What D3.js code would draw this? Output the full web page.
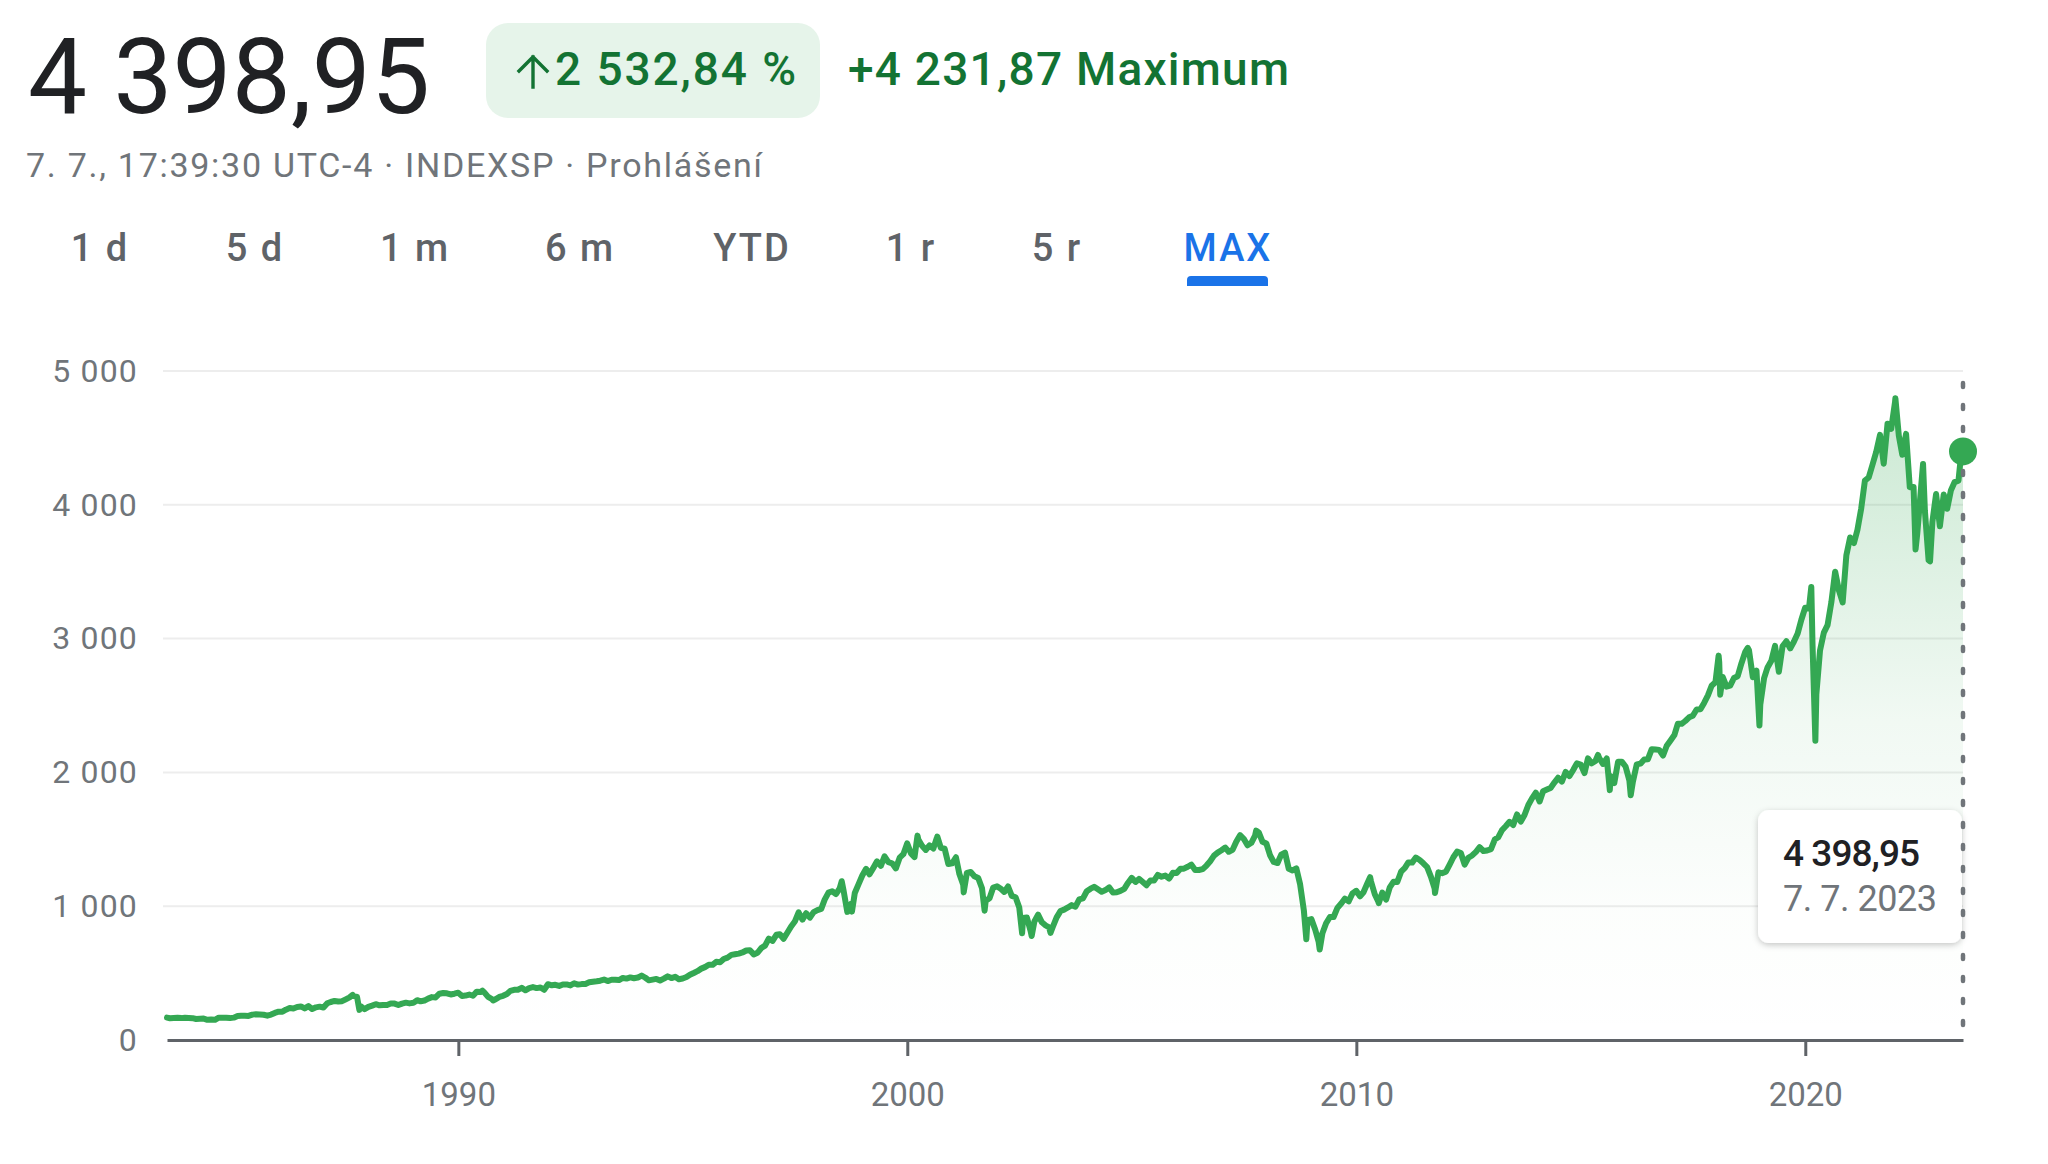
<!DOCTYPE html>
<html lang="cs">
<head>
<meta charset="utf-8">
<script src="https://cdn.jsdelivr.net/npm/d3@7"></script>
<style>
  html, body { margin: 0; padding: 0; background: #fff; }
  svg { display: block; font-family: Roboto, "Noto Sans", Arial, sans-serif; }
</style>
</head>
<body>
<svg id="chart" width="2048" height="1164"></svg>
<script>
// ---------------- DATA ----------------
// Header texts
const priceText = "4\u00A0398,95";
const changePctText = "2\u00A0532,84\u00A0%";
const changeAbsText = "+4\u00A0231,87 Maximum";
const subtitleText = "7. 7., 17:39:30 UTC-4 · INDEXSP · Prohlášení";
const tabLabels = ["1\u00A0d", "5\u00A0d", "1\u00A0m", "6\u00A0m", "YTD", "1\u00A0r", "5\u00A0r", "MAX"];
const activeTab = "MAX";
const tooltipValue = "4\u00A0398,95";
const tooltipDate = "7. 7. 2023";

// Axis ticks
const yTickValues = [0, 1000, 2000, 3000, 4000, 5000];
const yTickLabels = ["0", "1\u00A0000", "2\u00A0000", "3\u00A0000", "4\u00A0000", "5\u00A0000"];
const xTickYears = [1990, 2000, 2010, 2020];

const startDate = "1983-07-07";
const endDate = "2023-07-07";

// Month-end values (first month: 1983-07)
const values1980s = [
  162.6, 164.4, 166.1, 163.6, 166.4, 164.9,
  163.4, 157.1, 159.2, 160.1, 150.6, 153.2, 150.7, 166.7, 166.1, 166.1, 163.6, 167.2,
  179.6, 181.2, 180.7, 179.8, 189.6, 191.9, 190.9, 188.6, 182.1, 189.8, 202.2, 211.3,
  211.8, 226.9, 238.9, 235.5, 247.4, 250.8, 236.1, 252.9, 231.3, 244.0, 249.2, 242.2,
  274.1, 284.2, 291.7, 288.4, 290.1, 304.0, 318.7, 329.8, 321.8, 251.8, 230.3, 247.1,
  257.1, 267.8, 258.9, 261.3, 262.2, 273.5, 272.0, 261.5, 271.9, 279.0, 273.7, 277.7,
  297.5, 288.9, 294.9, 309.6, 320.5, 318.0, 346.1, 351.5, 349.2, 340.4, 346.0, 353.4
];
const values1990s = [
  329.1, 331.9, 339.9, 330.8, 361.2, 358.0, 356.2, 322.6, 306.1, 304.0, 322.2, 330.2,
  343.9, 367.1, 375.2, 375.3, 389.8, 371.2, 387.8, 395.4, 387.9, 392.5, 375.2, 417.1,
  408.8, 412.7, 403.7, 415.0, 415.4, 408.1, 424.2, 414.0, 417.8, 418.7, 431.4, 435.7,
  438.8, 443.4, 451.7, 440.2, 450.2, 450.5, 448.1, 463.6, 458.9, 467.8, 461.8, 466.5,
  481.6, 467.1, 445.8, 450.9, 456.5, 444.3, 458.3, 475.5, 462.7, 472.4, 453.7, 459.3,
  470.4, 487.4, 500.7, 514.7, 533.4, 544.8, 562.1, 561.9, 584.4, 581.5, 605.4, 615.9,
  636.0, 640.4, 645.5, 654.2, 669.1, 670.6, 640.0, 652.0, 687.3, 705.3, 757.0, 740.7,
  786.2, 790.8, 757.1, 801.3, 848.3, 885.1, 954.3, 899.5, 947.3, 914.6, 955.4, 970.4,
  980.3, 1049.3, 1101.8, 1111.8, 1090.8, 1133.8, 1120.7, 957.3, 1017.0, 1098.7, 1163.6, 1229.2,
  1279.6, 1238.3, 1286.4, 1335.2, 1301.8, 1372.7, 1328.7, 1320.4, 1282.7, 1362.9, 1389.0, 1469.3
];
const values2000s = [
  1394.5, 1366.4, 1498.6, 1452.4, 1420.6, 1454.6, 1430.8, 1517.7, 1436.5, 1429.4, 1315.0, 1320.3,
  1366.0, 1239.9, 1160.3, 1249.5, 1255.8, 1224.4, 1211.2, 1133.6, 1040.9, 1059.8, 1139.5, 1148.1,
  1130.2, 1106.7, 1147.4, 1076.9, 1067.1, 989.8, 911.6, 916.1, 815.3, 885.8, 936.3, 879.8,
  855.7, 841.2, 848.2, 916.9, 963.6, 974.5, 990.3, 1008.0, 996.0, 1050.7, 1058.2, 1111.9,
  1131.1, 1144.9, 1126.2, 1107.3, 1120.7, 1140.8, 1101.7, 1104.2, 1114.6, 1130.2, 1173.8, 1211.9,
  1181.3, 1203.6, 1180.6, 1156.9, 1191.5, 1191.3, 1234.2, 1220.3, 1228.8, 1207.0, 1249.5, 1248.3,
  1280.1, 1280.7, 1294.9, 1310.6, 1270.1, 1270.2, 1276.7, 1303.8, 1335.9, 1377.9, 1400.6, 1418.3,
  1438.2, 1406.8, 1420.9, 1482.4, 1530.6, 1503.4, 1455.3, 1474.0, 1526.8, 1549.4, 1481.1, 1468.4,
  1378.6, 1330.6, 1322.7, 1385.6, 1400.4, 1280.0, 1267.4, 1282.8, 1166.4, 968.8, 896.2, 903.3,
  825.9, 735.1, 797.9, 872.8, 919.1, 919.3, 987.5, 1020.6, 1057.1, 1036.2, 1095.6, 1115.1
];
const values2010s = [
  1073.9, 1104.5, 1169.4, 1186.7, 1089.4, 1030.7, 1101.6, 1049.3, 1141.2, 1183.3, 1180.6, 1257.6,
  1286.1, 1327.2, 1325.8, 1363.6, 1345.2, 1320.6, 1292.3, 1218.9, 1131.4, 1253.3, 1247.0, 1257.6,
  1312.4, 1365.7, 1408.5, 1397.9, 1310.3, 1362.2, 1379.3, 1406.6, 1440.7, 1412.2, 1416.2, 1426.2,
  1498.1, 1514.7, 1569.2, 1597.6, 1630.7, 1606.3, 1685.7, 1633.0, 1681.6, 1756.5, 1805.8, 1848.4,
  1782.6, 1859.5, 1872.3, 1884.0, 1923.6, 1960.2, 1930.7, 2003.4, 1972.3, 2018.1, 2067.6, 2058.9,
  1995.0, 2104.5, 2067.9, 2085.5, 2107.4, 2063.1, 2103.8, 1972.2, 1920.0, 2079.4, 2080.4, 2043.9,
  1940.2, 1932.2, 2059.7, 2065.3, 2097.0, 2098.9, 2173.6, 2171.0, 2168.3, 2126.2, 2198.8, 2238.8,
  2278.9, 2363.6, 2362.7, 2384.2, 2411.8, 2423.4, 2470.3, 2471.7, 2519.4, 2575.3, 2647.6, 2673.6,
  2823.8, 2713.8, 2640.9, 2648.1, 2705.3, 2718.4, 2816.3, 2901.5, 2914.0, 2711.7, 2760.2, 2506.9,
  2704.1, 2784.5, 2834.4, 2945.8, 2752.1, 2941.8, 2980.4, 2926.5, 2976.7, 3037.6, 3141.0, 3230.8
];
const values2020s = [
  3225.5, 2954.2, 2584.6, 2912.4, 3044.3, 3100.3, 3271.1, 3500.3, 3363.0, 3270.0, 3621.6, 3756.1,
  3714.2, 3811.2, 3972.9, 4181.2, 4204.1, 4297.5, 4395.3, 4522.7, 4307.5, 4605.4, 4567.0, 4766.2,
  4515.6, 4373.9, 4530.4, 4131.9, 4132.2, 3785.4, 4130.3, 3955.0, 3585.6, 3872.0, 4080.1, 3839.5,
  4076.6, 3970.2, 4109.3, 4169.5, 4179.8, 4450.4
];
// Intra-month highs / lows and end points
const extremeDates = [
  "1983-07-07", "1987-08-25", "1987-10-19", "1990-07-16", "1990-10-11", "1998-07-17", "1998-10-08",
  "2000-03-24", "2000-09-01", "2001-04-04", "2001-09-21", "2002-07-23", "2002-10-09", "2003-03-11",
  "2007-10-09", "2008-11-20", "2009-03-09", "2010-04-23", "2010-07-02", "2011-10-03",
  "2015-05-21", "2015-08-25", "2016-02-11", "2018-01-26", "2018-02-08", "2018-09-20", "2018-12-24",
  "2020-02-19", "2020-03-23", "2022-01-03", "2022-06-16", "2022-08-16", "2022-10-12", "2023-07-07"
];
const extremeValues = [
  167.08, 336.8, 224.8, 369.0, 295.5, 1186.8, 959.4,
  1527.5, 1520.8, 1103.3, 965.8, 797.7, 776.8, 800.7,
  1565.2, 752.4, 676.5, 1217.3, 1022.6, 1099.2,
  2130.8, 1867.6, 1829.1, 2872.9, 2581.0, 2930.8, 2351.1,
  3386.2, 2237.4, 4796.6, 3666.8, 4305.2, 3577.0, 4398.95
];

// ---------------- BUILD ----------------
const parse = d3.timeParse("%Y-%m-%d");
const monthly = [].concat(values1980s, values1990s, values2000s, values2010s, values2020s);
const series = monthly.map((v, i) => ({ date: new Date(1983, 6 + i + 1, 0), value: v }));
extremeDates.forEach((d, i) => series.push({ date: parse(d), value: extremeValues[i] }));
series.sort((a, b) => a.date - b.date);

const svg = d3.select("#chart");
const green = "#34a853";
const darkGreen = "#137333";
const grey = "#70757a";

const x = d3.scaleTime().domain([parse(startDate), parse(endDate)]).range([167, 1963]);
const y = d3.scaleLinear().domain([0, 5000]).range([1040, 371]);

// ----- Header -----
svg.append("text").attr("x", 28).attr("y", 113)
  .attr("font-size", 105).attr("fill", "#202124")
  .attr("textLength", 402).attr("lengthAdjust", "spacing")
  .text(priceText);

svg.append("rect").attr("x", 486).attr("y", 23).attr("width", 334).attr("height", 95)
  .attr("rx", 22).attr("fill", "#e6f4ea");
// up arrow icon
svg.append("path")
  .attr("d", "M533,87 L533,57 M519,71 L533,57 L547,71")
  .attr("fill", "none").attr("stroke", darkGreen).attr("stroke-width", 3.4)
  .attr("stroke-linecap", "square");
svg.append("text").attr("x", 555).attr("y", 85)
  .attr("font-size", 46).attr("font-weight", 500).attr("fill", darkGreen)
  .attr("textLength", 241).attr("lengthAdjust", "spacing")
  .text(changePctText);
svg.append("text").attr("x", 848).attr("y", 85)
  .attr("font-size", 46).attr("font-weight", 500).attr("fill", darkGreen)
  .attr("textLength", 441).attr("lengthAdjust", "spacing")
  .text(changeAbsText);

svg.append("text").attr("x", 26).attr("y", 177)
  .attr("font-size", 34).attr("fill", grey)
  .attr("textLength", 736).attr("lengthAdjust", "spacing")
  .text(subtitleText);

// Tabs
const tabCenters = [100, 255, 415, 580, 752, 911, 1057, 1228];
svg.append("g").selectAll("text").data(tabLabels).join("text")
  .attr("x", (d, i) => tabCenters[i]).attr("y", 261)
  .attr("text-anchor", "middle")
  .attr("font-size", 38).attr("font-weight", 500)
  .attr("letter-spacing", 2)
  .attr("fill", d => d === activeTab ? "#1a73e8" : "#5f6368")
  .text(d => d);
svg.append("path")
  .attr("d", "M1187,286 L1187,280 Q1187,276 1191,276 L1264,276 Q1268,276 1268,280 L1268,286 Z")
  .attr("fill", "#1a73e8");

// ----- Chart -----
const defs = svg.append("defs");
const grad = defs.append("linearGradient").attr("id", "areaGrad")
  .attr("gradientUnits", "userSpaceOnUse")
  .attr("x1", 0).attr("x2", 0).attr("y1", y(4800)).attr("y2", y(0));
grad.append("stop").attr("offset", 0).attr("stop-color", green).attr("stop-opacity", 0.26);
grad.append("stop").attr("offset", 0.5).attr("stop-color", green).attr("stop-opacity", 0.07);
grad.append("stop").attr("offset", 0.8).attr("stop-color", green).attr("stop-opacity", 0.015);
grad.append("stop").attr("offset", 1).attr("stop-color", green).attr("stop-opacity", 0);

const shadow = defs.append("filter").attr("id", "tipShadow")
  .attr("x", "-20%").attr("y", "-20%").attr("width", "140%").attr("height", "150%");
shadow.append("feDropShadow").attr("dx", 0).attr("dy", 2).attr("stdDeviation", 3)
  .attr("flood-color", "#000").attr("flood-opacity", 0.22);

// gridlines
svg.append("g").selectAll("line").data(yTickValues.filter(v => v > 0)).join("line")
  .attr("x1", 163).attr("x2", 1963)
  .attr("y1", d => y(d)).attr("y2", d => y(d))
  .attr("stroke", "#ededed").attr("stroke-width", 2);

// y axis labels
const yAxis = d3.axisLeft(y).tickValues(yTickValues).tickSize(0).tickPadding(25)
  .tickFormat((d, i) => yTickLabels[i]);
const gy = svg.append("g").attr("transform", "translate(163,0)").call(yAxis);
gy.select(".domain").remove();
gy.selectAll("text").attr("font-size", 32).attr("fill", grey)
  .attr("font-family", "Roboto, 'Noto Sans', sans-serif").attr("letter-spacing", 1.2);

// area + line
const area = d3.area().x(d => x(d.date)).y0(y(0)).y1(d => y(d.value));
const line = d3.line().x(d => x(d.date)).y(d => y(d.value));
svg.append("path").datum(series).attr("d", area).attr("fill", "url(#areaGrad)");

// x axis
const xAxis = d3.axisBottom(x)
  .tickValues(xTickYears.map(yr => new Date(yr, 0, 1)))
  .tickSize(16).tickSizeOuter(0).tickPadding(27)
  .tickFormat(d3.timeFormat("%Y"));
const gx = svg.append("g").attr("transform", `translate(0,${y(0)})`).call(xAxis);
gx.select(".domain").attr("stroke", "#5f6368").attr("stroke-width", 3);
gx.selectAll(".tick line").attr("stroke", "#5f6368").attr("stroke-width", 3);
gx.selectAll("text").attr("font-size", 33).attr("fill", grey)
  .attr("font-family", "Roboto, 'Noto Sans', sans-serif");

svg.append("path").datum(series).attr("d", line)
  .attr("fill", "none").attr("stroke", green).attr("stroke-width", 6)
  .attr("stroke-linejoin", "round").attr("stroke-linecap", "round");

// tooltip
const last = series[series.length - 1];
const tip = svg.append("g");
tip.append("rect").attr("x", 1758).attr("y", 810).attr("width", 204).attr("height", 133)
  .attr("rx", 11).attr("fill", "#fff").attr("filter", "url(#tipShadow)");
tip.append("text").attr("x", 1783).attr("y", 866)
  .attr("font-size", 37).attr("font-weight", 500).attr("fill", "#202124")
  .attr("textLength", 137).attr("lengthAdjust", "spacing")
  .text(tooltipValue);
tip.append("text").attr("x", 1783).attr("y", 911)
  .attr("font-size", 36).attr("fill", grey)
  .attr("textLength", 154).attr("lengthAdjust", "spacing")
  .text(tooltipDate);

// dotted cursor line
svg.append("line")
  .attr("x1", x(last.date)).attr("x2", x(last.date))
  .attr("y1", y(5000) + 12).attr("y2", y(0))
  .attr("stroke", "#70757a").attr("stroke-width", 4.5)
  .attr("stroke-dasharray", "4 18").attr("stroke-linecap", "round");

// end dot
svg.append("circle").attr("cx", x(last.date)).attr("cy", y(last.value))
  .attr("r", 14).attr("fill", green);
</script>
</body>
</html>
